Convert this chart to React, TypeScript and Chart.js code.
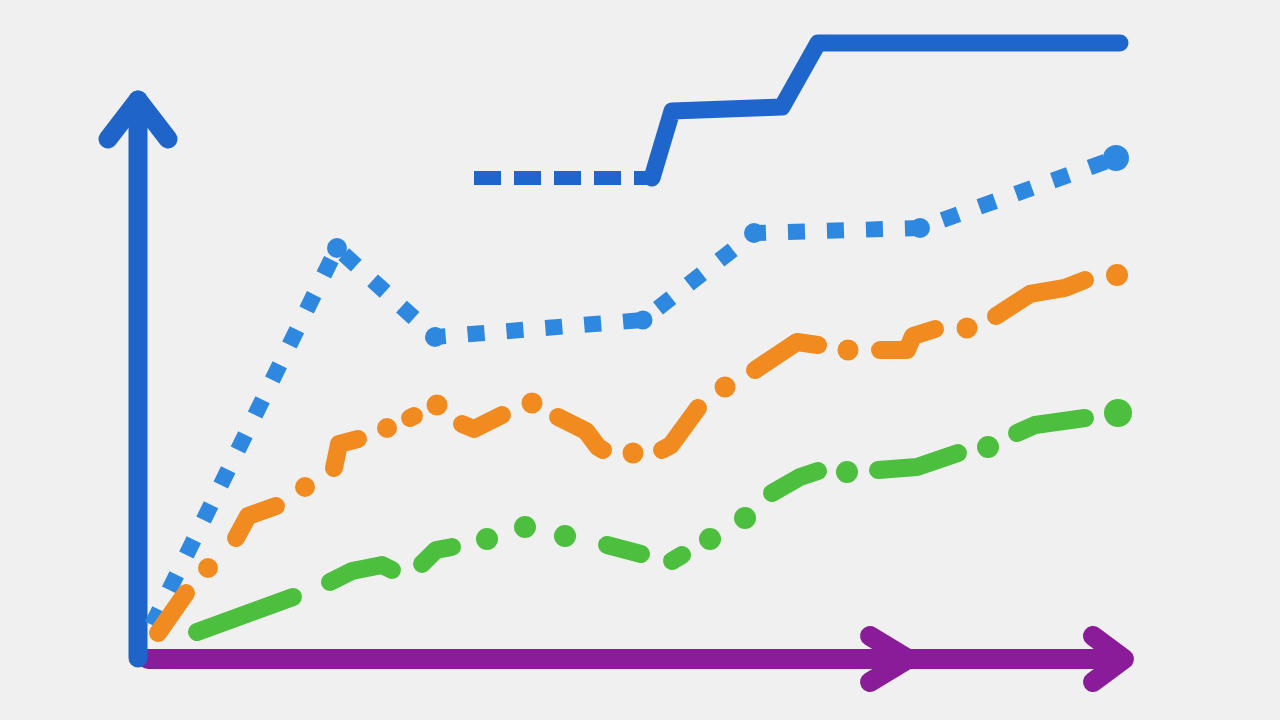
import { useEffect, useRef } from "react";
import { Chart, registerables } from "chart.js";

Chart.register(...registerables);

type P = [number, number];

// ---- data (x: time units, y: value units) ----
const yAxisShaft: P[] = [[-0.14, 0], [-0.14, 93]];
const yAxisHead: P[] = [[-0.74, 86.5], [-0.14, 93], [0.46, 86.5]];
const xAxisShaft: P[] = [[0.06, -0.17], [19.54, -0.17]];
const xAxisHeadA: P[] = [[14.5, 3.67], [15.26, -0.17], [14.5, -4.0]];
const xAxisHeadB: P[] = [[18.96, 3.67], [19.58, -0.17], [18.96, -4.0]];

const targetDashed: P[] = [[6.58, 80], [10.22, 80]];
const targetSolid: P[] = [[10.14, 80], [10.54, 91.17], [12.74, 91.83], [13.46, 102.5], [19.5, 102.5]];

const blueLine: P[] = [
  [0.14, 5.5], [3.84, 68.33], [5.8, 53.5], [9.96, 56.33], [12.18, 70.83], [15.5, 71.67], [19.42, 83.33],
];
const blueMarkerRadius = [0, 10, 10, 9.5, 10, 10, 13];

const orangeDashes: P[][] = [
  [[0.26, 4.17], [0.82, 10.83]],
  [[1.82, 20.0], [2.06, 23.67], [2.62, 25.33]],
  [[3.78, 31.67], [3.88, 35.67], [4.26, 36.5]],
  [[5.3, 40.0], [5.38, 40.33]],
  [[6.34, 39.0], [6.58, 38.17], [7.14, 40.5]],
  [[8.26, 40.17], [8.82, 37.83], [9.06, 35.17], [9.16, 34.67]],
  [[10.34, 34.67], [10.52, 35.5], [11.06, 41.67]],
  [[12.2, 48.0], [13.04, 52.67], [13.46, 52.17]],
  [[14.7, 51.33], [15.24, 51.33], [15.36, 53.67], [15.8, 54.83]],
  [[17.02, 57.0], [17.7, 60.67], [18.4, 61.67], [18.8, 63.0]],
];
const orangeDots: P[] = [
  [1.26, 15.0], [3.2, 28.5], [4.84, 38.33], [5.84, 42.17], [7.74, 42.5], [9.76, 34.17],
  [11.6, 45.17], [14.06, 51.33], [16.44, 55.0], [19.44, 63.83],
];
const orangeDotRadius = [10, 10, 10, 10.5, 10.5, 10.5, 10.5, 10.5, 10.5, 11];

const greenDashes: P[][] = [
  [[1.04, 4.33], [2.96, 10.17]],
  [[3.7, 12.67], [4.14, 14.5], [4.74, 15.5], [4.94, 14.67]],
  [[5.54, 15.67], [5.82, 18.0], [6.14, 18.5]],
  [[9.24, 18.83], [9.92, 17.33]],
  [[10.54, 16.17], [10.74, 17.17]],
  [[12.54, 27.5], [13.1, 30.17], [13.46, 31.17]],
  [[14.66, 31.33], [15.44, 31.83], [16.26, 34.17]],
  [[17.44, 37.5], [17.8, 38.83], [18.8, 40.0]],
];
const greenDots: P[] = [
  [6.84, 19.83], [7.6, 21.83], [8.4, 20.33], [11.3, 19.83], [12.0, 23.33],
  [14.04, 31.0], [16.86, 35.17], [19.46, 40.83],
];
const greenDotRadius = [11, 11, 11, 11, 11, 11, 11, 14];

// ---- colours ----
const C_BG = "#f0f0f0";
const C_YAXIS = "#1f64c9";
const C_XAXIS = "#8a1b99";
const C_TARGET = "#1e66cc";
const C_BLUE = "#2f88e0";
const C_ORANGE = "#f28b1f";
const C_GREEN = "#4dbf3e";

const pts = (a: P[]) => a.map(([x, y]) => ({ x, y }));
const dashPts = (d: P[][]) => {
  const out: { x: number; y: number | null }[] = [];
  d.forEach((seg) => {
    seg.forEach(([x, y]) => out.push({ x, y }));
    out.push({ x: seg[seg.length - 1][0], y: null });
  });
  return out;
};

export default function App() {
  const ref = useRef<HTMLCanvasElement | null>(null);

  useEffect(() => {
    document.body.style.margin = "0";
    if (!ref.current) return;
    const base = {
      fill: false,
      tension: 0,
      pointRadius: 0,
      borderCapStyle: "round" as const,
      borderJoinStyle: "round" as const,
    };
    const axis = (data: P[], color: string, w: number) => ({
      ...base,
      data: pts(data),
      borderColor: color,
      borderWidth: w,
      order: 10,
    });
    const dots = (data: P[], radii: number[], color: string) => ({
      data: pts(data),
      showLine: false,
      pointRadius: radii,
      pointBackgroundColor: color,
      pointBorderWidth: 0,
      order: 1,
    });

    const chart = new Chart(ref.current, {
      type: "line",
      data: {
        datasets: [
          axis(yAxisShaft, C_YAXIS, 19),
          axis(yAxisHead, C_YAXIS, 19),
          axis(xAxisShaft, C_XAXIS, 20),
          axis(xAxisHeadA, C_XAXIS, 20),
          axis(xAxisHeadB, C_XAXIS, 20),
          {
            ...base,
            data: pts(targetDashed),
            borderColor: C_TARGET,
            borderWidth: 14,
            borderDash: [27, 13],
            borderCapStyle: "butt",
            order: 3,
          },
          { ...base, data: pts(targetSolid), borderColor: C_TARGET, borderWidth: 17, order: 3 },
          {
            ...base,
            data: pts(blueLine),
            borderColor: C_BLUE,
            borderWidth: 16,
            borderDash: [17, 22],
            borderCapStyle: "butt",
            borderJoinStyle: "miter",
            pointRadius: blueMarkerRadius,
            pointBackgroundColor: C_BLUE,
            pointBorderWidth: 0,
            order: 3,
          },
          { ...base, data: dashPts(orangeDashes), borderColor: C_ORANGE, borderWidth: 18, spanGaps: false, order: 2 },
          dots(orangeDots, orangeDotRadius, C_ORANGE),
          { ...base, data: dashPts(greenDashes), borderColor: C_GREEN, borderWidth: 18, spanGaps: false, order: 2 },
          dots(greenDots, greenDotRadius, C_GREEN),
        ] as any,
      },
      options: {
        animation: false,
        responsive: false,
        devicePixelRatio: 1,
        events: [],
        layout: { padding: 0, autoPadding: false },
        plugins: { legend: { display: false }, tooltip: { enabled: false }, title: { display: false } },
        scales: {
          x: { type: "linear", min: -2.9, max: 22.7, display: false },
          y: { type: "linear", min: -10.333, max: 109.667, display: false },
        },
      },
    });
    return () => chart.destroy();
  }, []);

  return (
    <div style={{ position: "fixed", left: 0, top: 0, width: 1280, height: 720, background: C_BG }}>
      <canvas ref={ref} width={1280} height={720} style={{ display: "block" }} />
    </div>
  );
}
